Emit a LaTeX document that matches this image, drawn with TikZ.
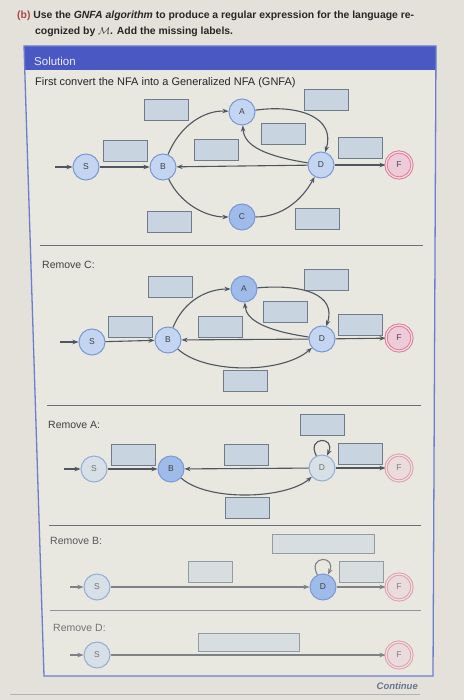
\documentclass[tikz,border=0pt]{standalone}
\usepackage{fontspec}
\setmainfont{Liberation Sans}
\usetikzlibrary{arrows.meta}
\definecolor{bgc}{HTML}{E3E1D9}
\definecolor{panelc}{HTML}{E8E7E0}
\definecolor{headc}{HTML}{4A58C4}
\definecolor{borderc}{HTML}{6C7ED0}
\definecolor{nodefill}{HTML}{C3D5F0}
\definecolor{nodedark}{HTML}{9FBBEA}
\definecolor{nodeline}{HTML}{7A98D4}
\definecolor{ffill}{HTML}{EECBD9}
\definecolor{fline}{HTML}{E07C9A}
\definecolor{boxfill}{HTML}{C8D5E1}
\definecolor{boxline}{HTML}{6E7C8C}
\definecolor{edgec}{HTML}{50565E}
\definecolor{sepc}{HTML}{6B717A}
\definecolor{redb}{HTML}{A84848}
\definecolor{contc}{HTML}{6A7490}
\begin{document}
\begin{tikzpicture}[x=1pt,y=-1pt,
  st/.style={circle,draw=nodeline,fill=nodefill,line width=1pt,minimum size=26pt,inner sep=0pt,font=\fontsize{8.5}{9}\selectfont,text=black!75},
  stdark/.style={st,fill=nodedark},
  stfade/.style={st,fill=nodefill!45!panelc,draw=nodeline!75!panelc,text=black!55},
  fin/.style={circle,draw=fline,fill=ffill,line width=1pt,double=ffill!60!white,double distance=1.2pt,minimum size=26pt,inner sep=0pt,font=\fontsize{8.5}{9}\selectfont,text=black!70},
  finfade/.style={fin,draw=fline!70!panelc,fill=ffill!40!panelc,double=panelc,text=black!50},
  lbox/.style={rectangle,draw=boxline,fill=boxfill,line width=0.8pt,minimum width=44pt,minimum height=21pt,inner sep=0pt},
  lboxfade/.style={lbox,draw=boxline!70!panelc,fill=boxfill!50!panelc},
  ed/.style={draw=edgec,line width=1.1pt,-{Stealth[length=6pt,width=4.5pt]}},
  edfade/.style={ed,draw=edgec!70!panelc},
  sect/.style={anchor=base west,inner sep=0pt,font=\fontsize{10.5}{12}\selectfont,text=black!75},
  sep/.style={draw=sepc,line width=1pt}
]
\useasboundingbox (0,0) rectangle (464,700);
\fill[bgc] (0,0) rectangle (464,700);

% title
\node[anchor=base west,inner sep=0pt,font=\fontsize{10.4}{12}\selectfont\bfseries,text=black!85] (t1) at (17,19)
  {\textcolor{redb}{(b)} Use the \textit{GNFA algorithm} to produce a regular expression for the language re-};
\node[anchor=base west,inner sep=0pt,font=\fontsize{10.4}{12}\selectfont\bfseries,text=black!85] (t2) at (35,35)
  {cognized by $\mathcal{M}$. Add the missing labels.};

% panel
\fill[panelc] (24,46) -- (436,46) -- (433,676) -- (44,676) -- cycle;
\fill[headc] (24,46) -- (436,46) -- (436,70) -- (25,70) -- cycle;
\draw[borderc,line width=1.3pt] (24,46) -- (436,46) -- (433,676) -- (44,676) -- cycle;
\node[anchor=base west,inner sep=0pt,font=\fontsize{11.5}{13}\selectfont,text=white!92!blue] (sol) at (34,66) {Solution};
\node[anchor=base west,inner sep=0pt,font=\fontsize{11}{13}\selectfont,text=black!85] (s0) at (35,86) {First convert the NFA into a Generalized NFA (GNFA)};

% ---------- section 1 ----------
\node[st] (S1) at (86,167) {S};
\node[st] (B1) at (163,167) {B};
\node[st] (A1) at (242,112) {A};
\node[st] (D1) at (321,165) {D};
\node[fin] (F1) at (399,165) {F};
\node[stdark] (C1) at (242,217) {C};
\node[lbox] (l11) at (166,110) {};
\node[lbox] (l12) at (326,100) {};
\node[lbox] (l13) at (283,134) {};
\node[lbox] (l14) at (125,151) {};
\node[lbox] (l15) at (216,150) {};
\node[lbox] (l16) at (360,148) {};
\node[lbox] (l17) at (169,222) {};
\node[lbox] (l18) at (317,219) {};
\coordinate (i1) at (55,167);
\draw[ed] (i1) -- (S1);
\draw[ed] (S1) -- (B1);
\draw[ed] (B1) .. controls (180,125) and (205,110) .. (A1);
\draw[ed] (A1) .. controls (300,104) and (336,118) .. (D1);
\draw[ed] (D1) .. controls (265,156) and (244,146) .. (A1);
\draw[ed] (D1) -- (B1);
\draw[ed] (D1) -- (F1);
\draw[ed] (B1) .. controls (180,203) and (205,217) .. (C1);
\draw[ed] (C1) .. controls (282,217) and (302,200) .. (D1);
\draw[sep] (40,246) -- (423,246);

% ---------- section 2 ----------
\node[sect] (r2) at (42,269) {Remove C:};
\node[st] (S2) at (92,342) {S};
\node[st] (B2) at (168,340) {B};
\node[stdark] (A2) at (244,289) {A};
\node[st] (D2) at (322,339) {D};
\node[fin] (F2) at (399,338) {F};
\node[lbox] (l21) at (170,287) {};
\node[lbox] (l22) at (326,280) {};
\node[lbox] (l23) at (285,312) {};
\node[lbox] (l24) at (130,327) {};
\node[lbox] (l25) at (220,327) {};
\node[lbox] (l26) at (360,325) {};
\node[lbox] (l27) at (245,381) {};
\coordinate (i2) at (60,342);
\draw[ed] (i2) -- (S2);
\draw[ed] (S2) -- (B2);
\draw[ed] (B2) .. controls (184,300) and (208,289) .. (A2);
\draw[ed] (A2) .. controls (302,284) and (337,294) .. (D2);
\draw[ed] (D2) .. controls (268,331) and (246,321) .. (A2);
\draw[ed] (D2) -- (B2);
\draw[ed] (D2) -- (F2);
\draw[ed] (B2) .. controls (205,374) and (282,374) .. (D2);
\draw[sep] (47,405) -- (421,405);

% ---------- section 3 ----------
\node[sect] (r3) at (48,428) {Remove A:};
\node[stfade] (S3) at (94,469) {S};
\node[stdark] (B3) at (171,469) {B};
\node[stfade] (D3) at (322,468) {D};
\node[finfade] (F3) at (399,468) {F};
\node[lbox] (l31) at (322,425) {};
\node[lbox] (l32) at (133,455) {};
\node[lbox] (l33) at (246,455) {};
\node[lbox] (l34) at (360,454) {};
\node[lbox] (l35) at (247,508) {};
\coordinate (i3) at (64,469);
\draw[ed] (i3) -- (S3);
\draw[ed] (S3) -- (B3);
\draw[ed] (D3) -- (B3);
\draw[ed] (D3) -- (F3);
\draw[ed] (B3) .. controls (208,502) and (286,499) .. (D3);
\draw[ed] (D3.115) .. controls (306,436) and (336,436) .. (D3.68);
\draw[sep] (49,525) -- (421,525);

% ---------- section 4 ----------
\node[sect,text=black!65] (r4) at (50,544) {Remove B:};
\node[stfade] (S4) at (97,587) {S};
\node[stdark] (D4) at (323,587) {D};
\node[finfade] (F4) at (399,587) {F};
\node[lboxfade,minimum width=102pt,minimum height=19pt] (l41) at (323,543.5) {};
\node[lboxfade] (l42) at (210,572) {};
\node[lboxfade] (l43) at (361,572) {};
\coordinate (i4) at (70,587);
\draw[edfade] (i4) -- (S4);
\draw[edfade] (S4) -- (D4);
\draw[edfade] (D4) -- (F4);
\draw[edfade] (D4.115) .. controls (307,555) and (337,555) .. (D4.68);
\draw[sep,draw=sepc!70!panelc] (50,610) -- (421,610);

% ---------- section 5 ----------
\node[sect,text=black!55] (r5) at (53,631) {Remove D:};
\node[stfade] (S5) at (97,655) {S};
\node[finfade] (F5) at (399,655) {F};
\node[lboxfade,minimum width=101pt,minimum height=18pt] (l51) at (249,642) {};
\coordinate (i5) at (70,655);
\draw[edfade] (i5) -- (S5);
\draw[edfade] (S5) -- (F5);

% footer
\node[anchor=base east,inner sep=0pt,font=\fontsize{9.5}{11}\selectfont\bfseries\itshape,text=contc] (cont) at (418,689) {Continue};
\draw[draw=gray!60,line width=1pt] (10,694) -- (420,694);
\end{tikzpicture}
\end{document}
